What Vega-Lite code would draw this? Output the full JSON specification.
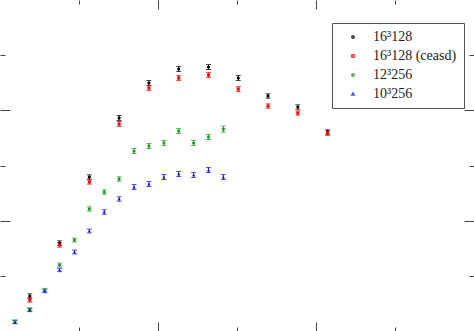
{
  "$schema": "https://vega.github.io/schema/vega-lite/v6.json",
  "width": 474,
  "height": 331,
  "padding": 0,
  "autosize": "none",
  "background": "white",
  "config": {"view": {"stroke": null},
    "legend": {"title": null, "orient": "none", "legendX": 332, "legendY": 23,
      "strokeColor": "#555", "fillColor": "white", "padding": 7,
      "labelFont": "serif", "labelFontSize": 14, "labelColor": "#222", "labelOffset": 13,
      "symbolOffset": 7, "rowPadding": 5, "symbolSize": 6, "labelLimit": 200}},
  "data": {"values": [
    {"s": "16³128", "x": 0.377, "y": 0.634, "e": 0.04},
    {"s": "16³128", "x": 0.754, "y": 1.595, "e": 0.04},
    {"s": "16³128", "x": 1.131, "y": 2.791, "e": 0.04},
    {"s": "16³128", "x": 1.508, "y": 3.861, "e": 0.045},
    {"s": "16³128", "x": 1.885, "y": 4.495, "e": 0.045},
    {"s": "16³128", "x": 2.262, "y": 4.749, "e": 0.045},
    {"s": "16³128", "x": 2.639, "y": 4.785, "e": 0.045},
    {"s": "16³128", "x": 3.016, "y": 4.586, "e": 0.045},
    {"s": "16³128", "x": 3.393, "y": 4.260, "e": 0.04},
    {"s": "16³128", "x": 3.770, "y": 4.060, "e": 0.04},
    {"s": "16³128", "x": 4.147, "y": 3.607, "e": 0.04},
    {"s": "16³128 (ceasd)", "x": 0.377, "y": 0.562, "e": 0.04},
    {"s": "16³128 (ceasd)", "x": 0.754, "y": 1.559, "e": 0.04},
    {"s": "16³128 (ceasd)", "x": 1.131, "y": 2.701, "e": 0.04},
    {"s": "16³128 (ceasd)", "x": 1.508, "y": 3.752, "e": 0.045},
    {"s": "16³128 (ceasd)", "x": 1.885, "y": 4.405, "e": 0.045},
    {"s": "16³128 (ceasd)", "x": 2.262, "y": 4.586, "e": 0.045},
    {"s": "16³128 (ceasd)", "x": 2.639, "y": 4.640, "e": 0.045},
    {"s": "16³128 (ceasd)", "x": 3.016, "y": 4.386, "e": 0.045},
    {"s": "16³128 (ceasd)", "x": 3.393, "y": 4.078, "e": 0.04},
    {"s": "16³128 (ceasd)", "x": 3.770, "y": 3.951, "e": 0.04},
    {"s": "16³128 (ceasd)", "x": 4.147, "y": 3.589, "e": 0.045},
    {"s": "12³256", "x": 0.189, "y": 0.170, "e": 0.03},
    {"s": "12³256", "x": 0.377, "y": 0.390, "e": 0.03},
    {"s": "12³256", "x": 0.566, "y": 0.743, "e": 0.03},
    {"s": "12³256", "x": 0.754, "y": 1.196, "e": 0.035},
    {"s": "12³256", "x": 0.943, "y": 1.649, "e": 0.035},
    {"s": "12³256", "x": 1.131, "y": 2.211, "e": 0.04},
    {"s": "12³256", "x": 1.320, "y": 2.519, "e": 0.04},
    {"s": "12³256", "x": 1.508, "y": 2.755, "e": 0.04},
    {"s": "12³256", "x": 1.697, "y": 3.263, "e": 0.045},
    {"s": "12³256", "x": 1.885, "y": 3.353, "e": 0.045},
    {"s": "12³256", "x": 2.074, "y": 3.408, "e": 0.045},
    {"s": "12³256", "x": 2.262, "y": 3.625, "e": 0.045},
    {"s": "12³256", "x": 2.451, "y": 3.408, "e": 0.045},
    {"s": "12³256", "x": 2.639, "y": 3.516, "e": 0.045},
    {"s": "12³256", "x": 2.828, "y": 3.661, "e": 0.055},
    {"s": "10³256", "x": 0.189, "y": 0.163, "e": 0.03},
    {"s": "10³256", "x": 0.377, "y": 0.381, "e": 0.03},
    {"s": "10³256", "x": 0.566, "y": 0.725, "e": 0.03},
    {"s": "10³256", "x": 0.754, "y": 1.106, "e": 0.03},
    {"s": "10³256", "x": 0.943, "y": 1.432, "e": 0.035},
    {"s": "10³256", "x": 1.131, "y": 1.813, "e": 0.035},
    {"s": "10³256", "x": 1.320, "y": 2.157, "e": 0.04},
    {"s": "10³256", "x": 1.508, "y": 2.393, "e": 0.04},
    {"s": "10³256", "x": 1.697, "y": 2.610, "e": 0.045},
    {"s": "10³256", "x": 1.885, "y": 2.664, "e": 0.045},
    {"s": "10³256", "x": 2.074, "y": 2.791, "e": 0.045},
    {"s": "10³256", "x": 2.262, "y": 2.846, "e": 0.045},
    {"s": "10³256", "x": 2.451, "y": 2.828, "e": 0.045},
    {"s": "10³256", "x": 2.639, "y": 2.918, "e": 0.045},
    {"s": "10³256", "x": 2.828, "y": 2.791, "e": 0.045}
  ]},
  "layer": [
    {
      "mark": {"type": "errorbar", "ticks": {"size": 5, "thickness": 1}, "thickness": 1},
      "encoding": {
        "x": {"field": "x", "type": "quantitative", "scale": {"domain": [0, 6], "nice": false, "zero": false},
          "axis": {"orient": "bottom", "values": [1, 2, 3, 4, 5], "labels": false, "domain": false, "grid": false, "title": null,
            "tickColor": "#444", "tickWidth": 1,
            "tickSize": {"condition": {"test": "datum.value % 2 === 0", "value": -9}, "value": -4}}},
        "y": {"field": "y", "type": "quantitative", "scale": {"domain": [0, 6], "nice": false, "zero": false},
          "axis": {"orient": "left", "values": [1, 2, 3, 4, 5], "labels": false, "domain": false, "grid": false, "title": null,
            "tickColor": "#444", "tickWidth": 1,
            "tickSize": {"condition": {"test": "datum.value % 2 === 0", "value": -10}, "value": -5}}},
        "yError": {"field": "e"},
        "color": {"field": "s", "type": "nominal",
          "scale": {"domain": ["16³128", "16³128 (ceasd)", "12³256", "10³256"], "range": ["#000000", "#ee1111", "#1f9a1f", "#1010e0"]}}
      }
    },
    {
      "mark": {"type": "point", "filled": true, "opacity": 1, "size": 10},
      "encoding": {
        "x": {"field": "x", "type": "quantitative",
          "axis": {"orient": "top", "values": [1, 2, 3, 4, 5], "labels": false, "domain": false, "grid": false, "title": null,
            "tickColor": "#444", "tickWidth": 1,
            "tickSize": {"condition": {"test": "datum.value % 2 === 0", "value": -9}, "value": -4}}},
        "y": {"field": "y", "type": "quantitative",
          "axis": {"orient": "right", "values": [1, 2, 3, 4, 5], "labels": false, "domain": false, "grid": false, "title": null,
            "tickColor": "#444", "tickWidth": 1,
            "tickSize": {"condition": {"test": "datum.value % 2 === 0", "value": -10}, "value": -5}}},
        "color": {"field": "s", "type": "nominal",
          "scale": {"domain": ["16³128", "16³128 (ceasd)", "12³256", "10³256"], "range": ["#000000", "#ee1111", "#1f9a1f", "#1010e0"]}},
        "shape": {"field": "s", "type": "nominal",
          "scale": {"domain": ["16³128", "16³128 (ceasd)", "12³256", "10³256"], "range": ["circle", "square", "circle", "triangle-up"]}}
      }
    }
  ],
  "resolve": {"axis": {"x": "independent", "y": "independent"}}
}
